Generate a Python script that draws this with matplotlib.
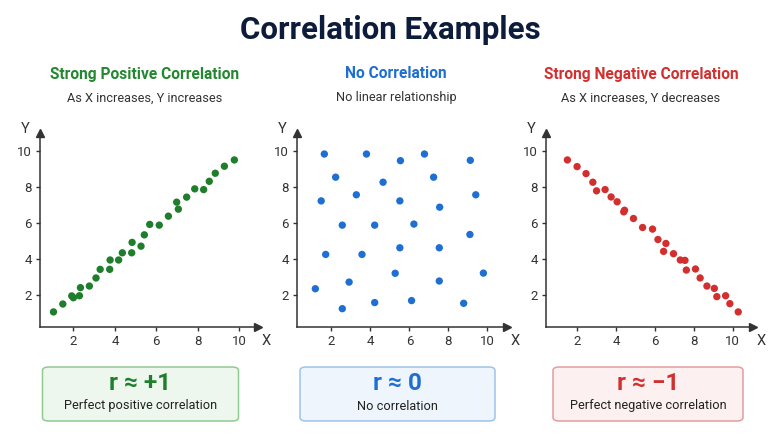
import matplotlib
matplotlib.use("Agg")
import matplotlib.pyplot as plt
from matplotlib.patches import FancyBboxPatch

plt.rcParams['font.family'] = ['Roboto', 'DejaVu Sans']

# ---------------- data ----------------
pos_x = [1.04, 1.49, 1.92, 2.00, 2.29, 2.34, 2.77, 3.09, 3.29, 3.75, 3.77, 4.18, 4.36, 4.81, 4.83,
         5.26, 5.42, 5.68, 6.14, 6.58, 6.98, 7.06, 7.46, 7.85, 8.28, 8.55, 8.84, 9.28, 9.76]
pos_y = [1.04, 1.48, 1.93, 1.83, 1.94, 2.39, 2.48, 2.93, 3.41, 3.41, 3.93, 3.93, 4.33, 4.33, 4.91,
         4.70, 5.33, 5.91, 5.87, 6.37, 7.15, 6.76, 7.43, 7.89, 7.85, 8.31, 8.76, 9.15, 9.50]

none_x = [1.64, 3.80, 5.54, 6.77, 9.12, 2.22, 4.65, 7.24, 1.48, 3.28, 5.51, 7.55, 9.40, 2.56, 4.22,
          6.23, 9.10, 1.71, 3.57, 5.51, 7.53, 5.27, 9.79, 1.18, 2.91, 7.53, 2.56, 4.22, 6.11, 8.78]
none_y = [9.83, 9.83, 9.46, 9.83, 9.48, 8.54, 8.26, 8.54, 7.22, 7.56, 7.22, 6.87, 7.56, 5.87, 5.87,
          5.93, 5.35, 4.24, 4.24, 4.61, 4.61, 3.19, 3.20, 2.33, 2.70, 2.76, 1.22, 1.56, 1.67, 1.52]

neg_x = [1.50, 2.00, 2.46, 2.81, 3.00, 3.44, 3.75, 4.06, 4.44, 4.40, 4.90, 5.37, 5.88, 6.16, 6.57,
         6.45, 6.96, 7.31, 7.55, 7.62, 8.09, 8.33, 8.68, 9.06, 9.19, 9.64, 9.86, 10.29]
neg_y = [9.50, 9.13, 8.74, 8.26, 7.78, 7.85, 7.44, 7.17, 6.70, 6.61, 6.24, 5.74, 5.65, 5.07, 4.85,
         4.41, 4.28, 3.93, 3.91, 3.37, 3.43, 2.93, 2.48, 2.35, 1.89, 1.94, 1.50, 1.04]

ticks = [2, 4, 6, 8, 10]
titles = ["Strong Positive Correlation", "No Correlation", "Strong Negative Correlation"]
subtitles = ["As X increases, Y increases", "No linear relationship", "As X increases, Y decreases"]
r_labels = ["r \u2248 +1", "r \u2248 0", "r \u2248 \u22121"]
r_desc = ["Perfect positive correlation", "No correlation", "Perfect negative correlation"]

# ---------------- style ----------------
colors = ["#1e7e2c", "#1f6fd2", "#d2302f"]
title_colors = ["#23882f", "#1f6fd2", "#d23030"]
box_face = ["#eef7ee", "#eef5fd", "#fdf0f0"]
box_edge = ["#8fcb92", "#9ec3ea", "#e59c9c"]
axis_col = "#333333"

W, H = 780, 443
fig = plt.figure(figsize=(W / 100, H / 100), dpi=100)
fig.patch.set_facecolor("white")

def fx(px):
    return px / W

def fy(py):
    return 1 - py / H

# axes pixel extents: left, right, top, bottom ; xlim
ax_specs = [
    (40, 258, 133, 327, (0.39, 10.9)),
    (297, 507, 133, 327, (0.24, 11.0)),
    (546, 753, 133, 327, (0.40, 11.05)),
]
data = [(pos_x, pos_y), (none_x, none_y), (neg_x, neg_y)]

for i, (l, r, t, b, xl) in enumerate(ax_specs):
    ax = fig.add_axes([fx(l), fy(b), (r - l) / W, (b - t) / H])
    ax.set_xlim(*xl)
    ax.set_ylim(0.2, 11.0)
    xs, ys = data[i]
    ax.scatter(xs, ys, s=28, color=colors[i], edgecolors="none", zorder=3)
    for s in ["top", "right"]:
        ax.spines[s].set_visible(False)
    for s in ["left", "bottom"]:
        ax.spines[s].set_color(axis_col)
        ax.spines[s].set_linewidth(1.1)
    ax.plot(1, 0, marker=">", color=axis_col, markersize=6, transform=ax.transAxes, clip_on=False)
    ax.plot(0, 1, marker="^", color=axis_col, markersize=6, transform=ax.transAxes, clip_on=False)
    ax.set_xticks(ticks)
    ax.set_yticks(ticks)
    ax.tick_params(colors=axis_col, labelsize=9.5, length=3, width=1, pad=3)
    ax.set_facecolor("none")
    # axis letters
    fig.text(fx(l - 15), fy(t - 4), "Y", fontsize=10.5, color=axis_col, ha="center", va="center")
    fig.text(fx(r + 4), fy(b + 14), "X", fontsize=10.5, color=axis_col, ha="left", va="center")

# titles
fig.text(0.5, fy(30), "Correlation Examples", fontsize=22.5, fontweight="bold",
         color="#0e1c3c", ha="center", va="center")
centers = [145, 396, 641]
for i in range(3):
    fig.text(fx(centers[i]), fy(74), titles[i], fontsize=11.2, fontweight="bold",
             color=title_colors[i], ha="center", va="center")
    fig.text(fx(centers[i]), fy(98), subtitles[i], fontsize=9.2, color="#333333",
             ha="center", va="center")

# boxes
boxes = [(42.5, 238.5), (300, 495), (553, 743)]
for i, (bl, br) in enumerate(boxes):
    bt, bb = 367, 421
    p = FancyBboxPatch((fx(bl), fy(bb)), (br - bl) / W, (bb - bt) / H,
                       boxstyle="round,pad=0,rounding_size=0.008",
                       transform=fig.transFigure, facecolor=box_face[i],
                       edgecolor=box_edge[i], linewidth=1.1)
    fig.patches.append(p)
    cx = (bl + br) / 2
    fig.text(fx(cx), fy(384), r_labels[i], fontsize=17.5, fontweight="bold",
             color=colors[i], ha="center", va="center")
    fig.text(fx(cx), fy(406), r_desc[i], fontsize=9.2, color="#222222",
             ha="center", va="center")

fig.savefig("out.png", dpi=100, facecolor="white")
